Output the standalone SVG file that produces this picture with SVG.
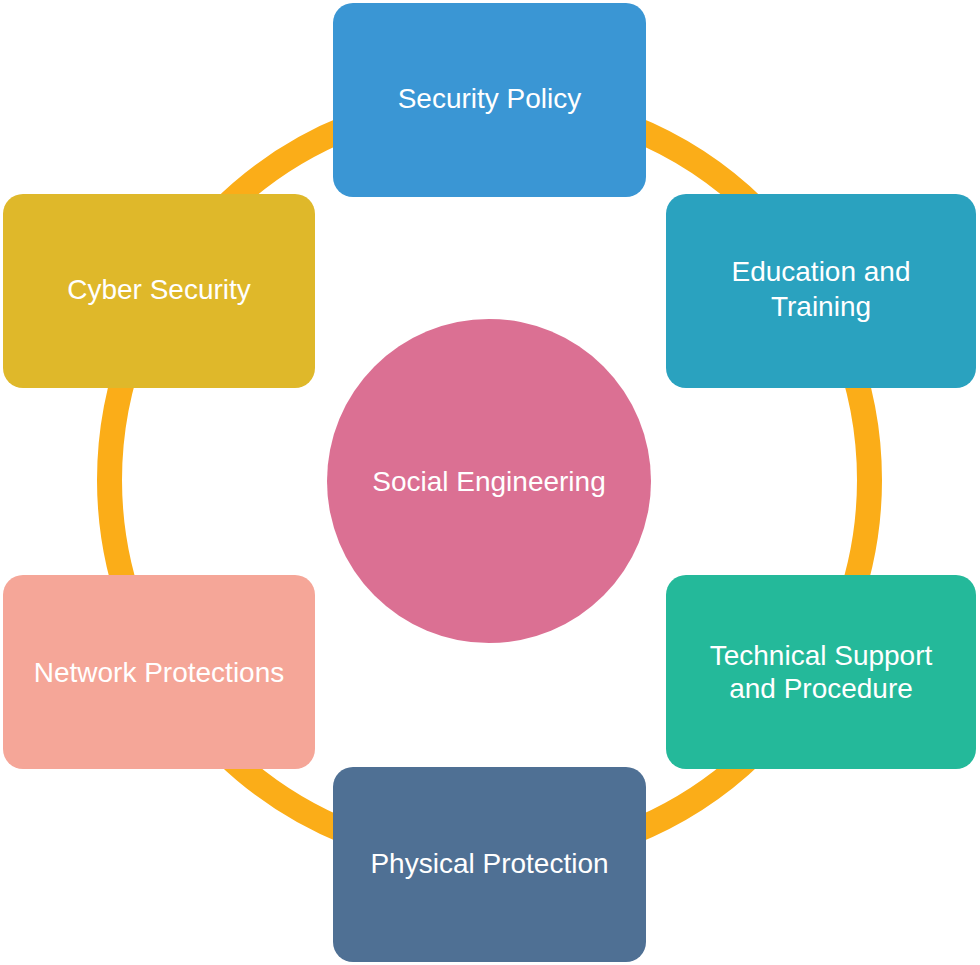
<svg xmlns="http://www.w3.org/2000/svg" width="980" height="965" viewBox="0 0 980 965">
<style>
.box{rx:20px;ry:20px}
.lbl{font-family:"Liberation Sans",Arial,sans-serif;font-size:28px;fill:#ffffff;text-anchor:middle}
</style>
<rect width="980" height="965" fill="#ffffff"/>
<g id="connectors">
<circle cx="489.5" cy="480" r="380" fill="none" stroke="#FBAD18" stroke-width="25"/>
</g>
<g id="security-policy">
<rect class="box" x="333" y="3" width="313" height="194" rx="20" fill="#3A96D4"/>
<text class="lbl" x="489.5" y="108">Security Policy</text>
</g>
<g id="cyber-security">
<rect class="box" x="3" y="194" width="312" height="194" rx="20" fill="#DFB82A"/>
<text class="lbl" x="159" y="299">Cyber Security</text>
</g>
<g id="education-training">
<rect class="box" x="666" y="194" width="310" height="194" rx="20" fill="#2AA2BF"/>
<text class="lbl" x="821" y="281">Education and</text>
<text class="lbl" x="821" y="316">Training</text>
</g>
<g id="network-protections">
<rect class="box" x="3" y="575" width="312" height="194" rx="20" fill="#F5A698"/>
<text class="lbl" x="159" y="682">Network Protections</text>
</g>
<g id="technical-support">
<rect class="box" x="666" y="575" width="310" height="194" rx="20" fill="#24B99A"/>
<text class="lbl" x="821" y="665">Technical Support</text>
<text class="lbl" x="821" y="698">and Procedure</text>
</g>
<g id="physical-protection">
<rect class="box" x="333" y="767" width="313" height="195" rx="20" fill="#4F7094"/>
<text class="lbl" x="489.5" y="873">Physical Protection</text>
</g>
<g id="social-engineering">
<circle cx="489" cy="481" r="162" fill="#DB7093"/>
<text class="lbl" x="489" y="491">Social Engineering</text>
</g>
</svg>
